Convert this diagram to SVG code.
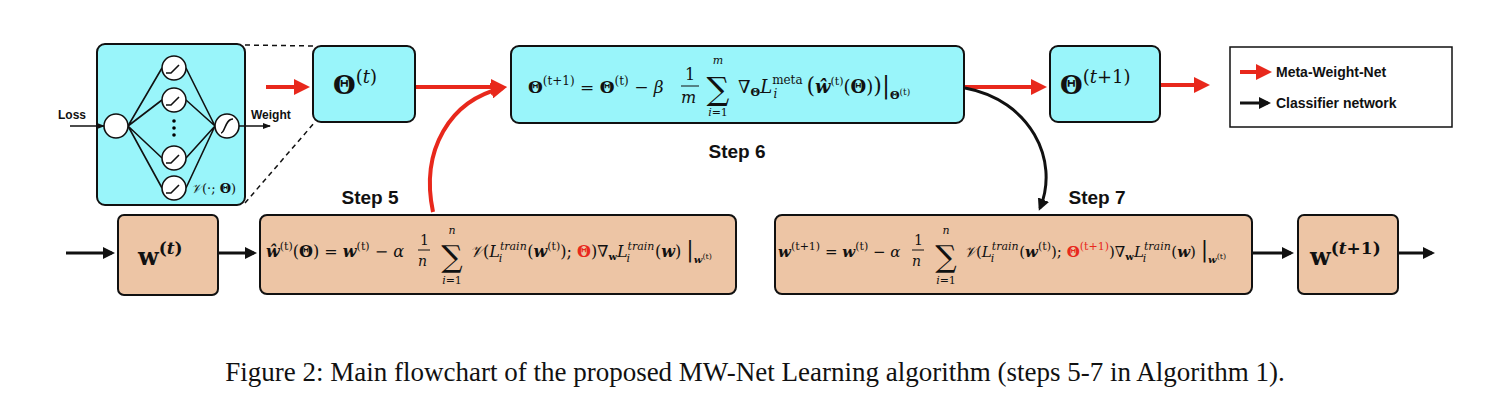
<svg xmlns="http://www.w3.org/2000/svg" width="1510" height="418" viewBox="0 0 1510 418">
<style>
.cy{fill:#99F5FA;stroke:#111;stroke-width:2}
.or{fill:#EDC5A5;stroke:#111;stroke-width:2}
.m{font-family:"DejaVu Serif","Liberation Serif",serif;fill:#111}
.b{font-family:"Liberation Sans",Arial,sans-serif;font-weight:bold;fill:#111}
.red{fill:#E8281C}
.nd{fill:#fff;stroke:#111;stroke-width:1.6}
.ln{stroke:#111;stroke-width:1.6;fill:none}
.ra{stroke:#E8281C;stroke-width:4;fill:none;marker-end:url(#rh)}
.ba{stroke:#111;stroke-width:3;fill:none;marker-end:url(#bh)}
</style>
<defs>
<marker id="rh" markerWidth="4" markerHeight="4" refX="3" refY="2" orient="auto"><path d="M0,0L4,2L0,4z" fill="#E8281C"/></marker>
<marker id="bh" markerWidth="4" markerHeight="4" refX="3" refY="2" orient="auto"><path d="M0,0L4,2L0,4z" fill="#111"/></marker>
<marker id="sh" markerWidth="8" markerHeight="8" refX="7" refY="4" orient="auto" markerUnits="userSpaceOnUse"><path d="M0,1L8,4L0,7z" fill="#111"/></marker>
</defs>
<rect width="1510" height="418" fill="#fff"/>
<g id="connectors">
<line x1="245" y1="45" x2="314" y2="46" stroke="#111" stroke-width="1.5" stroke-dasharray="5,4"/>
<line x1="245" y1="203" x2="315" y2="122" stroke="#111" stroke-width="1.5" stroke-dasharray="5,4"/>
<line class="ra" x1="266" y1="87" x2="306" y2="87"/>
<line class="ra" x1="416" y1="87" x2="503" y2="87"/>
<path class="ra" d="M433,212 C420,150 450,100 503,88"/>
<line class="ra" x1="965" y1="87" x2="1043" y2="87"/>
<path class="ba" d="M965,88 C1030,100 1060,160 1040,208"/>
<line class="ra" x1="1161" y1="85" x2="1206" y2="85"/>
<line class="ba" x1="66" y1="253" x2="112" y2="253"/>
<line class="ba" x1="219" y1="253" x2="254" y2="253"/>
<line class="ba" x1="1253" y1="253" x2="1291" y2="253"/>
<line class="ba" x1="1399" y1="253" x2="1432" y2="253"/>
</g>
<g id="nn">
<rect class="cy" x="97" y="44" width="148" height="161" rx="8"/>
<g class="ln">
<path d="M128,126L162,68M128,126L162,100M128,126L162,158M128,126L162,188M186,68L215,126M186,100L215,126M186,158L215,126M186,188L215,126"/>
</g>
<circle class="nd" cx="116" cy="126" r="12"/>
<circle class="nd" cx="174" cy="68" r="12"/><circle class="nd" cx="174" cy="100" r="12"/>
<circle class="nd" cx="174" cy="158" r="12"/><circle class="nd" cx="174" cy="188" r="12"/>
<circle class="nd" cx="227" cy="126" r="12"/>
<g class="ln"><path d="M166,73h5l8,-8M166,105h5l8,-8M166,163h5l8,-8M166,193h5l8,-8M221,133c4,0 4,-14 12,-14"/></g>
<circle cx="174" cy="121" r="1.8"/><circle cx="174" cy="128" r="1.8"/><circle cx="174" cy="135" r="1.8"/>
<line x1="70" y1="126" x2="104" y2="126" stroke="#111" stroke-width="1.5" marker-end="url(#sh)"/>
<line x1="239" y1="126" x2="270" y2="126" stroke="#111" stroke-width="1.5" marker-end="url(#sh)"/>
<text class="b" x="58" y="119" font-size="12">Loss</text>
<text class="b" x="251" y="119" font-size="12">Weight</text>
<text class="m" x="191" y="193" font-size="13"><tspan font-style="italic">𝒱</tspan>(·; <tspan font-weight="bold">Θ</tspan>)</text>
</g>
<g id="theta_t">
<rect class="cy" x="313" y="46" width="102" height="76" rx="8"/>
<text class="m" x="333" y="94" font-size="26" font-weight="bold">Θ<tspan font-size="18" dy="-11" font-weight="normal">(<tspan font-style="italic">t</tspan>)</tspan></text>
</g>
<g id="step6">
<rect class="cy" x="511" y="46" width="453" height="77" rx="8"/>
<text class="m" x="528" y="93" font-size="17"><tspan font-weight="bold">Θ</tspan><tspan font-size="12" dy="-8">(t+1)</tspan><tspan dy="8"> = </tspan><tspan font-weight="bold">Θ</tspan><tspan font-size="12" dy="-8">(t)</tspan><tspan dy="8"> − </tspan><tspan font-style="italic">β</tspan></text>
<text class="m" x="685" y="80" font-size="16">1</text><line x1="681" y1="86" x2="699" y2="86" stroke="#111" stroke-width="1"/>
<text class="m" x="681" y="103" font-size="16" font-style="italic">m</text>
<text class="m" x="718" y="64" font-size="11" font-style="italic" text-anchor="middle">m</text>
<text class="m" x="718" y="100" font-size="32" text-anchor="middle">∑</text>
<text class="m" x="718" y="116" font-size="11" text-anchor="middle"><tspan font-style="italic">i</tspan>=1</text>
<text class="m" x="738" y="93" font-size="18"><tspan font-style="italic">∇</tspan><tspan font-size="11" dy="3" font-weight="bold">Θ</tspan><tspan dy="-3" font-style="italic">L</tspan><tspan font-size="12" dy="-9">meta</tspan><tspan font-size="12" dx="-29" dy="14" font-style="italic">i</tspan><tspan dx="29" dy="-5" font-size="22">(</tspan><tspan font-weight="bold" font-style="italic">ŵ</tspan><tspan font-size="11" dy="-8">(t)</tspan><tspan dy="8">(</tspan><tspan font-weight="bold">Θ</tspan>)<tspan font-size="22">)</tspan><tspan font-size="24">|</tspan><tspan font-size="11" dy="6" font-weight="bold">Θ</tspan><tspan font-size="9" dy="-4">(t)</tspan></text>
<text class="b" x="737" y="158" font-size="19" text-anchor="middle">Step 6</text>
</g>
<g id="theta_t1">
<rect class="cy" x="1050" y="46" width="110" height="76" rx="8"/>
<text class="m" x="1060" y="94" font-size="26" font-weight="bold">Θ<tspan font-size="18" dy="-11" font-weight="normal">(<tspan font-style="italic">t</tspan>+1)</tspan></text>
</g>
<g id="legend">
<rect x="1230" y="47" width="222" height="80" fill="#fff" stroke="#111" stroke-width="1.5"/>
<line class="ra" x1="1240" y1="72" x2="1268" y2="72"/>
<line class="ba" x1="1240" y1="103" x2="1268" y2="103"/>
<text class="b" x="1276" y="77" font-size="14">Meta-Weight-Net</text>
<text class="b" x="1276" y="108" font-size="14">Classifier network</text>
</g>
<g id="w_t">
<rect class="or" x="118" y="215" width="100" height="80" rx="6"/>
<text class="m" x="138" y="265" font-size="24" font-weight="bold">w<tspan font-size="17" dy="-11">(<tspan font-style="italic">t</tspan>)</tspan></text>
</g>
<g id="step5">
<rect class="or" x="260" y="215" width="476" height="79" rx="7"/>
<text class="m" x="266" y="257" font-size="16"><tspan font-weight="bold" font-style="italic">ŵ</tspan><tspan font-size="11" dy="-7">(t)</tspan><tspan dy="7">(</tspan><tspan font-weight="bold">Θ</tspan>) = <tspan font-weight="bold" font-style="italic">w</tspan><tspan font-size="11" dy="-7">(t)</tspan><tspan dy="7"> − </tspan><tspan font-style="italic">α</tspan></text>
<text class="m" x="420" y="245" font-size="14">1</text><line x1="418" y1="250" x2="430" y2="250" stroke="#111"/>
<text class="m" x="418" y="266" font-size="14" font-style="italic">n</text>
<text class="m" x="452" y="234" font-size="11" font-style="italic" text-anchor="middle">n</text>
<text class="m" x="452" y="267" font-size="30" text-anchor="middle">∑</text>
<text class="m" x="452" y="284" font-size="11" text-anchor="middle"><tspan font-style="italic">i</tspan>=1</text>
<text class="m" x="470" y="257" font-size="16"><tspan font-style="italic">𝒱</tspan>(<tspan font-style="italic">L</tspan><tspan font-size="11" dy="-7" font-style="italic">train</tspan><tspan font-size="11" dx="-28" dy="12" font-style="italic">i</tspan><tspan dx="25" dy="-5">(</tspan><tspan font-weight="bold" font-style="italic">w</tspan><tspan font-size="11" dy="-7">(t)</tspan><tspan dy="7">); </tspan><tspan font-weight="bold" class="red">Θ</tspan>)<tspan font-style="italic">∇</tspan><tspan font-size="10" dy="3" font-weight="bold">w</tspan><tspan dy="-3" font-style="italic">L</tspan><tspan font-size="11" dy="-7" font-style="italic">train</tspan><tspan font-size="11" dx="-28" dy="12" font-style="italic">i</tspan><tspan dx="25" dy="-5">(</tspan><tspan font-weight="bold" font-style="italic">w</tspan>) <tspan font-size="22">|</tspan><tspan font-size="10" dy="6" font-weight="bold" font-style="italic">w</tspan><tspan font-size="8" dy="-4">(t)</tspan></text>
<text class="b" x="370" y="204" font-size="19" text-anchor="middle">Step 5</text>
</g>
<g id="step7">
<rect class="or" x="775" y="215" width="477" height="79" rx="7"/>
<text class="m" x="778" y="257" font-size="15"><tspan font-weight="bold" font-style="italic">w</tspan><tspan font-size="11" dy="-7">(t+1)</tspan><tspan dy="7"> = </tspan><tspan font-weight="bold" font-style="italic">w</tspan><tspan font-size="11" dy="-7">(t)</tspan><tspan dy="7"> − </tspan><tspan font-style="italic">α</tspan></text>
<text class="m" x="914" y="245" font-size="14">1</text><line x1="912" y1="250" x2="924" y2="250" stroke="#111"/>
<text class="m" x="912" y="266" font-size="14" font-style="italic">n</text>
<text class="m" x="946" y="234" font-size="11" font-style="italic" text-anchor="middle">n</text>
<text class="m" x="946" y="267" font-size="30" text-anchor="middle">∑</text>
<text class="m" x="946" y="284" font-size="11" text-anchor="middle"><tspan font-style="italic">i</tspan>=1</text>
<text class="m" x="964" y="257" font-size="15"><tspan font-style="italic">𝒱</tspan>(<tspan font-style="italic">L</tspan><tspan font-size="11" dy="-7" font-style="italic">train</tspan><tspan font-size="11" dx="-28" dy="12" font-style="italic">i</tspan><tspan dx="25" dy="-5">(</tspan><tspan font-weight="bold" font-style="italic">w</tspan><tspan font-size="11" dy="-7">(t)</tspan><tspan dy="7">); </tspan><tspan font-weight="bold" class="red">Θ</tspan><tspan font-size="11" dy="-7" class="red">(t+1)</tspan><tspan dy="7">)</tspan><tspan font-style="italic">∇</tspan><tspan font-size="10" dy="3" font-weight="bold">w</tspan><tspan dy="-3" font-style="italic">L</tspan><tspan font-size="11" dy="-7" font-style="italic">train</tspan><tspan font-size="11" dx="-28" dy="12" font-style="italic">i</tspan><tspan dx="25" dy="-5">(</tspan><tspan font-weight="bold" font-style="italic">w</tspan>) <tspan font-size="22">|</tspan><tspan font-size="10" dy="6" font-weight="bold" font-style="italic">w</tspan><tspan font-size="8" dy="-4">(t)</tspan></text>
<text class="b" x="1097" y="204" font-size="19" text-anchor="middle">Step 7</text>
</g>
<g id="w_t1">
<rect class="or" x="1298" y="215" width="100" height="79" rx="6"/>
<text class="m" x="1310" y="265" font-size="24" font-weight="bold">w<tspan font-size="17" dy="-11">(<tspan font-style="italic">t</tspan>+1)</tspan></text>
</g>
<text x="755" y="381" font-family="Liberation Serif,serif" font-size="27" text-anchor="middle" fill="#111">Figure 2: Main flowchart of the proposed MW-Net Learning algorithm (steps 5-7 in Algorithm 1).</text>
</svg>
